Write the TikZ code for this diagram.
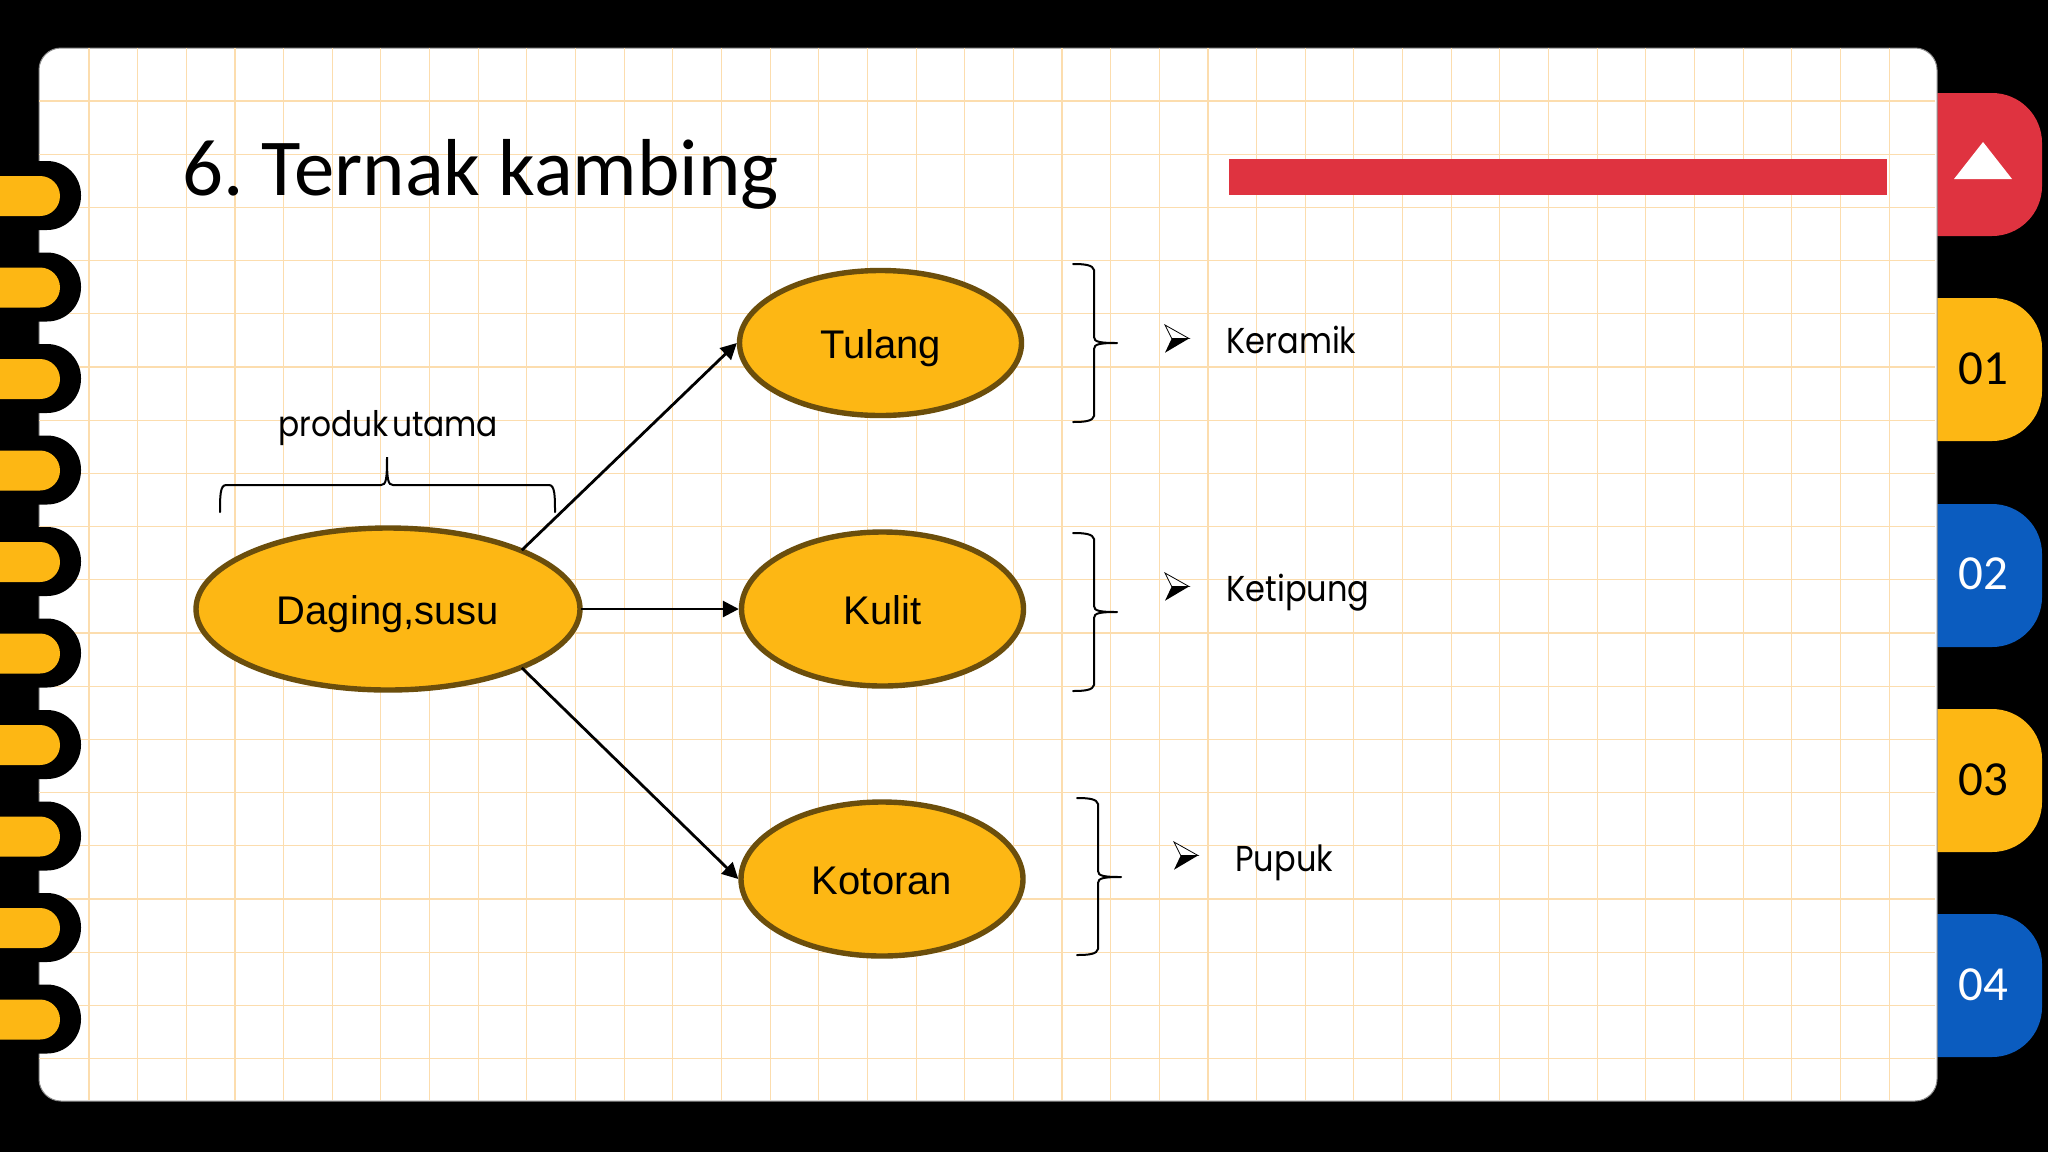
\documentclass[tikz,border=0pt]{standalone}
\usepackage{fontspec}
\setmainfont{Liberation Sans}
\newfontfamily\titlefont{Carlito}
\newfontfamily\notefont[FakeStretch=0.89,WordSpace=0.4]{Poppins}
\usetikzlibrary{arrows.meta, shapes.geometric}

\definecolor{ringyellow}{HTML}{FDB714}
\definecolor{tabred}{HTML}{DF3340}
\definecolor{tabblue}{HTML}{0B5CBF}
\definecolor{gridline}{HTML}{FCDDAE}
\definecolor{eggborder}{HTML}{6B4E0C}

\tikzset{
    x=0.5pt, y=-0.5pt,
    product/.style={ellipse, draw=eggborder, fill=ringyellow, line width=2.7pt,
	minimum width=141pt, minimum height=77pt, inner sep=0pt, text height=15pt, text depth=0pt,
	font=\fontsize{20}{20}\selectfont},
    link/.style={-{Triangle[length=8pt, width=8pt]}, line width=1.4pt, shorten <=-1pt},
    bracket/.style={line width=1pt, line cap=round},
    note/.style={font=\notefont\fontsize{18}{18}\selectfont, inner sep=0pt, anchor=base west},
    tabtext/.style={font=\titlefont\fontsize{24.5}{24.5}\selectfont, inner sep=0pt},
    pics/arrowbullet/.style={code={
	\draw[line width=0.4pt, fill=white] (0, 0) -- (24, 13.5) -- (6.7, 13.5) -- cycle;
	\fill[black] (0, 27.7) -- (24, 13.5) -- (6.7, 13.5) -- cycle;
    }}
}

\begin{document}
\begin{tikzpicture}
    \useasboundingbox (0, 0) rectangle (2048, 1152);
    \clip (0, 0) rectangle (2048, 1152);
    \fill[black] (0, 0) rectangle (2048, 1152);

    % tabs on the right
    \foreach \col/\top in {tabred/93, ringyellow/298, tabblue/504, ringyellow/709, tabblue/914}
	\fill[\col, rounded corners=25pt] (1880, \top) rectangle (2042, \top + 143);
    \node[tabtext] (one) at (1983, 369) {01};
    \node[tabtext, white] (two) at (1983, 574) {02};
    \node[tabtext] (three) at (1983, 780) {03};
    \node[tabtext, white] (four) at (1983, 985) {04};
    \fill[white] (1954, 179) -- (1983, 142) -- (2012, 179) -- cycle;

    % paper
    \filldraw[fill=white, draw=black!45, line width=0.5pt, rounded corners=11pt] (39, 48) rectangle (1937, 1101);
    \begin{scope}
	\clip[rounded corners=11pt] (39, 48) rectangle (1936, 1100);
	\foreach \i in {0, ..., 37}
	    \draw[gridline, line width=0.55pt] (89 + 48.65 * \i, 48) -- (89 + 48.65 * \i, 1101);
	\foreach \i in {0, ..., 18}
	    \draw[gridline, line width=0.55pt] (39, 101 + 53.2 * \i) -- (1935, 101 + 53.2 * \i);
    \end{scope}

    % rings
    \foreach \i in {0, ..., 9} {
	\fill[black, rounded corners=17pt] (-60, 161 + 91.5 * \i) rectangle (81, 230 + 91.5 * \i);
	\fill[ringyellow, rounded corners=10pt] (-60, 176 + 91.5 * \i) rectangle (60, 216 + 91.5 * \i);
    }

    \node[font=\titlefont\fontsize{40.4}{40.4}\selectfont, inner sep=0pt, anchor=base west] (title) at (182, 195) {6.\ Ternak kambing};
    \fill[tabred] (1229, 159) rectangle (1887, 195);

    \node[product, minimum width=192pt, minimum height=81pt] (daging) at (388, 609) {Daging,susu};
    \node[product, minimum height=72.5pt] (tulang) at (880.5, 343) {Tulang};
    \node[product] (kulit) at (882.5, 609) {Kulit};
    \node[product] (kotoran) at (882, 879) {Kotoran};

    \draw[link] (daging.24) -- (tulang.west);
    \draw[link] (daging.east) -- (kulit.west);
    \draw[link] (daging.-24) -- (kotoran.west);

    % braces
    \foreach \bx/\ya/\yb/\yc in {1073/264/343/422, 1073/533/612/691, 1077/798/877/955}
	\draw[bracket] (\bx, \ya) .. controls (\bx + 12, \ya) and (\bx + 20, \ya + 1) .. (\bx + 21, \ya + 6)
	    -- (\bx + 21, \yb - 6) .. controls (\bx + 21, \yb - 1) and (\bx + 27, \yb) .. (\bx + 44, \yb)
	    (\bx + 21, \yb + 6) .. controls (\bx + 21, \yb + 1) and (\bx + 27, \yb) .. (\bx + 44, \yb)
	    (\bx + 21, \yb + 6) -- (\bx + 21, \yc - 6) .. controls (\bx + 20, \yc - 1) and (\bx + 12, \yc) .. (\bx, \yc);
    \draw[bracket] (220, 512) .. controls (220, 497) and (220, 485) .. (226, 485)
	-- (381, 485) .. controls (386, 485) and (387, 480) .. (387, 457)
	.. controls (387, 480) and (388, 485) .. (393, 485)
	-- (549, 485) .. controls (555, 485) and (555, 497) .. (555, 512);

    \node[note, font=\notefont\fontsize{17.6}{17.6}\selectfont] (utama) at (278, 436) {produk utama};
    \pic at (1165, 325) {arrowbullet};
    \node[note] (keramik) at (1226, 353) {Keramik};
    \pic at (1165, 573) {arrowbullet};
    \node[note] (ketipung) at (1226, 601) {Ketipung};
    \pic at (1174, 842) {arrowbullet};
    \node[note] (pupuk) at (1235, 871) {Pupuk};
\end{tikzpicture}
\end{document}
